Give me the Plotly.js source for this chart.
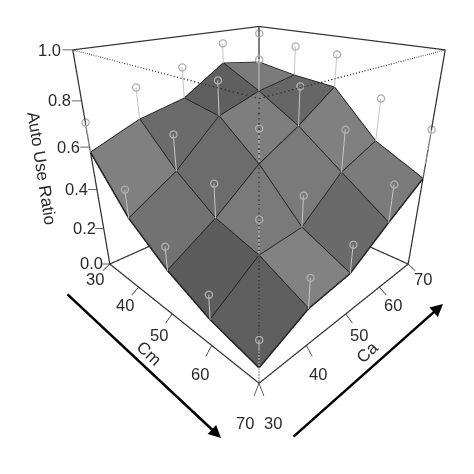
<!DOCTYPE html>
<html><head><meta charset="utf-8">
<script src="https://cdn.plot.ly/plotly-3.0.1.min.js"></script>
<style>html,body{margin:0;padding:0;background:#fff;overflow:hidden;width:474px;height:474px}#c{width:518px;height:474px}</style>
</head><body><div id="c"></div>
<script>
const cmVals=[30,40,50,60,70];
const caVals=[30,40,50,60,70];
const zTicks=[0,0.2,0.4,0.6,0.8,1];
const zLabels=['0.0','0.2','0.4','0.6','0.8','1.0'];
// fitted surface: rows by Cm, columns by Ca
const fitted=[
 [0.576,0.666,0.715,0.846,0.817],
 [0.353,0.487,0.680,0.749,0.786],
 [0.218,0.353,0.520,0.633,0.768],
 [0.126,0.289,0.309,0.482,0.561],
 [0.073,0.178,0.204,0.333,0.453]];
// observed points
const observed=[
 [0.709,0.811,0.862,0.943,0.966],
 [0.486,0.657,0.842,0.898,0.928],
 [0.330,0.513,0.683,0.816,0.921],
 [0.242,0.449,0.459,0.678,0.762],
 [0.199,0.316,0.339,0.509,0.678]];
// grey level of each surface facet
const shades=[
 [128,107,95,123],
 [114,108,126,102],
 [92,122,122,128],
 [95,130,106,123]];

const PX=518,PY=474;
const ink='#2a2a2a';
const xs=[],ys=[],zs=[],fi=[],fj=[],fk=[],fc=[];
cmVals.forEach((cm,i)=>caVals.forEach((ca,j)=>{xs.push(cm);ys.push(ca);zs.push(fitted[i][j]);}));
const idx=(i,j)=>i*caVals.length+j;
shades.forEach((row,i)=>row.forEach((g,j)=>{
  const col=`rgb(${g},${g},${g})`;
  fi.push(idx(i,j),idx(i,j));fj.push(idx(i+1,j),idx(i+1,j+1));fk.push(idx(i+1,j+1),idx(i,j+1));
  fc.push(col,col);
}));
function seg(list){const x=[],y=[],z=[];list.forEach(p=>{p.forEach(q=>{x.push(q[0]);y.push(q[1]);z.push(q[2]);});x.push(null);y.push(null);z.push(null);});return {x,y,z};}
const gridSegs=[];
cmVals.forEach((cm,i)=>gridSegs.push(caVals.map((ca,j)=>[cm,ca,fitted[i][j]])));
caVals.forEach((ca,j)=>gridSegs.push(cmVals.map((cm,i)=>[cm,ca,fitted[i][j]])));
const stemSegs=[];
cmVals.forEach((cm,i)=>caVals.forEach((ca,j)=>stemSegs.push([[cm,ca,fitted[i][j]],[cm,ca,observed[i][j]]])));
const a=30,b=70;
const solid=[[[a,a,0],[a,a,1],[a,b,1],[b,b,1],[b,b,0],[a,b,0],[a,a,0],[b,a,0],[b,b,0]],[[a,b,0],[a,b,1]]];
const dotted=[[[a,a,1],[b,a,1],[b,b,1]],[[b,a,1],[b,a,0]]];
const ticks=[];
cmVals.forEach(v=>ticks.push([[v,a,0],[v+1.08,a-2.04,0]]));
caVals.forEach(v=>ticks.push([[b,v,0],[b+2.04,v-1.08,0]]));
zTicks.forEach(v=>ticks.push([[a,a,v],[a-1.1,a-1.1,v]]));
const line=(s,w,c,dash)=>Object.assign({type:'scatter3d',mode:'lines',hoverinfo:'skip',showlegend:false,line:{width:w,color:c,dash:dash||'solid'}},seg(s));
const traces=[
 {type:'mesh3d',x:xs,y:ys,z:zs,i:fi,j:fj,k:fk,facecolor:fc,flatshading:true,hoverinfo:'skip',
  lighting:{ambient:1,diffuse:0,specular:0,roughness:1,fresnel:0}},
 line(gridSegs,3,'#1c1c1c'),
 line(stemSegs,2,'#c4c4c4'),
 {type:'scatter3d',mode:'markers',hoverinfo:'skip',showlegend:false,
  x:xs,y:ys,z:observed.flat(),marker:{symbol:'circle-open',size:4.5,color:'#b0b0b0',line:{width:1.5,color:'#b0b0b0'}}},
 line(solid,2.5,'#333'),
 line(dotted,2.5,'#333','dot'),
 line(ticks,1.5,'#333')
];
const font={family:'"Liberation Sans",Arial,sans-serif',size:16.5,color:ink};
const sceneAnn=(x,y,z,text,xshift,yshift)=>({x,y,z,text,showarrow:false,font,xanchor:'center',yanchor:'middle',xshift:xshift||0,yshift:yshift||0});
const annots3d=[];
cmVals.forEach(v=>annots3d.push(sceneAnn(v+2.7,a-4.4,0,String(v),v===b?-5:0,v===b?-9:(v===60?-3:0))));
caVals.forEach(v=>annots3d.push(sceneAnn(b+4.4,v-2.7,0,String(v),v===a?5:0,v===a?-9:(v===40?-3:0))));
zTicks.forEach((v,n)=>annots3d.push(sceneAnn(a-2.5,a-2.5,v,zLabels[n])));
const paperText=(px,py,text,angle,size)=>({xref:'paper',yref:'paper',x:px/PX,y:1-py/PY,text,textangle:angle,showarrow:false,font:Object.assign({},font,{size}),xanchor:'center',yanchor:'middle'});
const arrow=(x0,y0,x1,y1)=>({xref:'paper',yref:'paper',x:x1/PX,y:1-y1/PY,ax:x0-x1,ay:y0-y1,text:'',showarrow:true,arrowhead:2,arrowsize:1,arrowwidth:2.5,arrowcolor:'#000'});
const axisOff={visible:false,showgrid:false,zeroline:false,showspikes:false,showbackground:false};
Plotly.newPlot('c',traces,{
 width:PX,height:PY,margin:{l:0,r:0,t:0,b:0},paper_bgcolor:'#fff',showlegend:false,
 scene:{domain:{x:[0,1],y:[(PY-395.3)/PY,(PY-4.7)/PY]},
  aspectmode:'manual',aspectratio:{x:1.3,y:1.3,z:1.176},
  camera:{eye:{x:1.3128,y:-1.3128,z:0.794},center:{x:0,y:0,z:-0.152},up:{x:0,y:0,z:1},projection:{type:'perspective'}},
  xaxis:Object.assign({range:[24,76]},axisOff),yaxis:Object.assign({range:[24,76]},axisOff),zaxis:Object.assign({range:[-0.1,1.1]},axisOff),
  annotations:annots3d,bgcolor:'#fff'},
 annotations:[
  paperText(42,168,'Auto Use Ratio',81,17),
  paperText(149,353,'Cm',43,17),
  paperText(367,352,'Ca',-43,17),
  arrow(66,293,221,438),
  arrow(292,438,443,304)
 ]
},{displayModeBar:false});
</script></body></html>
